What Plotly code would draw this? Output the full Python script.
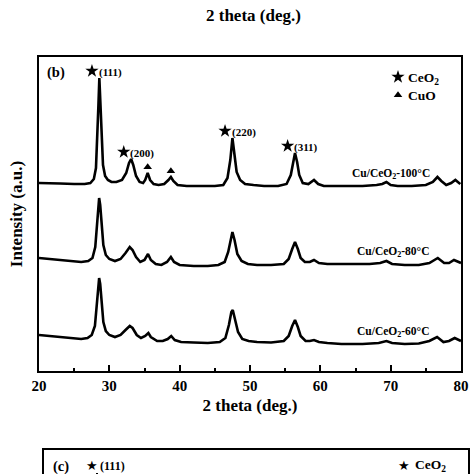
import plotly.graph_objects as go

# ---------------- data ----------------
two_theta_100 = [20, 21.5, 23, 25, 26.5, 27.3, 27.8, 28.1, 28.3, 28.45, 28.58, 28.72, 28.9, 29.1, 29.4,
                 29.8, 30.3, 31.0, 31.8, 32.4, 32.8, 33.1, 33.4, 33.8, 34.3, 34.8, 35.1, 35.45, 35.8,
                 36.3, 37.0, 37.8, 38.4, 38.75, 39.1, 39.7, 41, 43, 45, 46.2, 46.8, 47.2, 47.5, 47.8,
                 48.1, 48.6, 49.3, 50.5, 52, 54, 55.2, 55.8, 56.15, 56.4, 56.7, 57.0, 57.5, 58.3, 59.1,
                 59.7, 60.5, 62, 64, 66, 68, 68.8, 69.4, 70.0, 71, 73, 75, 76.0, 76.65, 77.2, 77.9,
                 78.6, 79.2, 79.9]
intensity_100 = [3, 3, 2.5, 2, 2, 3, 7, 18, 46, 81, 108, 86, 46, 21, 10,
                 6, 4, 4, 6, 13, 23, 27, 21, 10, 4, 3, 6, 13, 6,
                 2, 1, 2, 6, 9, 5, 1, 0, 0, 0, 1, 8, 26, 48, 31,
                 14, 6, 2, 1, 0, 0, 2, 11, 24, 33, 24, 11, 3, 2, 6,
                 2, 0, 0, 0, 0, 1, 2, 4, 1, 0, 0, 1, 4, 9, 5, 1,
                 3, 6, 2]

two_theta_80 = [20, 21.5, 23, 24.5, 26, 27, 27.6, 28.0, 28.25, 28.45, 28.55, 28.7, 28.9, 29.15, 29.5,
                30.0, 30.8, 31.6, 32.3, 32.9, 33.3, 33.8, 34.4, 35.0, 35.5, 35.9, 36.6, 37.4, 38.2,
                38.75, 39.2, 40, 42, 44, 45.5, 46.4, 46.9, 47.25, 47.5, 47.8, 48.2, 48.8, 49.7, 51,
                53, 54.8, 55.5, 56.0, 56.4, 56.8, 57.2, 57.8, 58.5, 59.1, 59.8, 61, 63, 65, 67, 68.5,
                69.4, 70.2, 72, 74, 75.5, 76.7, 77.6, 78.3, 79.0, 80]
intensity_80 = [7, 6, 5, 4, 3, 4, 7, 18, 40, 62, 67, 60, 40, 20, 10,
                6, 4, 6, 12, 18, 15, 8, 3, 5, 11, 5, 1, 0, 3,
                8, 3, 0, -1, -1, 0, 3, 13, 27, 33, 25, 11, 4, 1, 0,
                0, 1, 6, 16, 23, 16, 7, 3, 3, 5, 2, 1, 1, 1, 1, 2,
                4, 1, 0, 0, 2, 7, 2, 2, 5, 2]

two_theta_60 = [20, 21.5, 23, 24.5, 26, 26.9, 27.5, 27.95, 28.2, 28.4, 28.55, 28.7, 28.9, 29.15, 29.5,
                30.0, 30.8, 31.6, 32.3, 32.9, 33.3, 33.9, 34.5, 35.1, 35.55, 35.9, 36.8, 37.6, 38.3,
                38.8, 39.3, 40.2, 42, 44, 45.7, 46.5, 47.0, 47.35, 47.55, 47.85, 48.3, 48.9, 49.8, 51,
                53, 54.8, 55.5, 56.0, 56.4, 56.8, 57.2, 57.9, 58.5, 59.1, 59.8, 61, 63, 66, 68.3, 69.4,
                70.2, 72, 74, 75.5, 76.6, 77.5, 78.3, 79.1, 80]
intensity_60 = [8, 7, 6, 4.5, 4, 5, 8, 17, 38, 58, 65, 59, 40, 21, 12,
                8, 6, 8, 13, 17, 15, 8, 5, 7, 10, 6, 2, 2, 4,
                7, 3, 1, 0.5, 0, 1, 5, 18, 31, 33, 25, 11, 4, 2, 1,
                0.5, 2, 7, 17, 23, 16, 7, 2, 2, 3, 1, 0, -1, -1, 0, 2,
                0, -1, -0.5, 2, 6, 1, 2, 5, 2]

sample_labels = ["Cu/CeO<sub>2</sub>-100°C", "Cu/CeO<sub>2</sub>-80°C", "Cu/CeO<sub>2</sub>-60°C"]
stack_offsets = [185, 106, 28]

ceo2_peaks = [28.58, 33.1, 47.5, 56.4]          # 2θ of the indexed CeO2 reflections
ceo2_hkl = ["(111)", "(200)", "(220)", "(311)"]
cuo_peaks = [35.45, 38.75]                       # 2θ of the CuO reflections
x_ticks = [20, 30, 40, 50, 60, 70, 80]

# ---------------- layout helpers ----------------
W, H = 474, 474
L, R, T, B = 39, 13, 57, 103
Y_MAX = 314
X_MIN, X_MAX = 20, 80
FONT = "Liberation Serif, Times New Roman, serif"
SYM = "DejaVu Sans"
DEG_PER_PX = (X_MAX - X_MIN) / (W - L - R)


def py(p):  # pixel row -> paper y
    return (H - B - p) / (H - T - B)


def px(p):  # pixel column -> paper x
    return (p - L) / (W - L - R)


def dx(p):  # pixel column -> data x
    return X_MIN + (p - L) * DEG_PER_PX


def dy(p):  # pixel row -> data y
    return (H - B - p) * Y_MAX / (H - T - B)


def text_at(x, y, text, size, xanchor="center", family=FONT):
    return dict(x=px(x), y=py(y), xref="paper", yref="paper", text=text, showarrow=False,
                xanchor=xanchor, yanchor="middle", font=dict(family=family, size=size, color="black"))


def peak_top(xs, ys, pos, off):
    return max(v for x, v in zip(xs, ys) if abs(x - pos) < 0.4) + off


fig = go.Figure()
series = [(two_theta_100, intensity_100), (two_theta_80, intensity_80), (two_theta_60, intensity_60)]
for (xs, ys), off, name in zip(series, stack_offsets, sample_labels):
    fig.add_trace(go.Scatter(x=xs, y=[v + off for v in ys], mode="lines", name=name,
                             line=dict(color="black", width=2.6), showlegend=False,
                             hoverinfo="skip"))

# star / triangle symbols above the peaks of the top pattern
star_x = [p - 1.05 for p in ceo2_peaks]
star_y = [peak_top(two_theta_100, intensity_100, p, stack_offsets[0]) + 7 for p in ceo2_peaks]
tri_x = cuo_peaks
tri_y = [peak_top(two_theta_100, intensity_100, p, stack_offsets[0]) + 6 for p in cuo_peaks]

fig.add_trace(go.Scatter(x=star_x + [dx(398)], y=star_y + [dy(77)],
                         mode="markers", marker=dict(symbol="star", size=10, color="black",
                                                     line=dict(width=0)),
                         showlegend=False, hoverinfo="skip", cliponaxis=False))
fig.add_trace(go.Scatter(x=tri_x + [dx(398)], y=tri_y + [dy(95)],
                         mode="markers", marker=dict(symbol="triangle-up", size=7.5, color="black",
                                                     line=dict(width=0)),
                         showlegend=False, hoverinfo="skip", cliponaxis=False))

ann = []
# sample labels (right-aligned)
for yp, name in zip([174, 252, 332], sample_labels):
    ann.append(text_at(432, yp, "<b>" + name + "</b>", 11.5, xanchor="right"))
# hkl labels right of each star
for sx, sy, lab in zip(star_x, star_y, ceo2_hkl):
    ann.append(dict(x=sx + 0.65, y=sy - 1, xref="x", yref="y", text="<b>" + lab + "</b>",
                    showarrow=False, xanchor="left", yanchor="middle",
                    font=dict(family=FONT, size=11, color="black")))
# panel label and legend
ann.append(text_at(56, 72, "<b>(b)</b>", 14.5))
ann.append(text_at(406, 78, "<b>CeO<sub>2</sub></b>", 13.5, xanchor="left"))
ann.append(text_at(406, 95, "<b>CuO</b>", 13.5, xanchor="left"))
# axis title of the panel above (cropped)
ann.append(text_at(253, 15, "<b>2 theta (deg.)</b>", 17))
# lower panel fragment (c)
ann.append(text_at(61, 466, "<b>(c)</b>", 14.5))
ann.append(text_at(92, 465, "★", 13, family=SYM))
ann.append(text_at(98, 466, "<b>(111)</b>", 12, xanchor="left"))
ann.append(text_at(404, 465, "★", 13, family=SYM))
ann.append(text_at(413, 465, "<b>CeO<sub>2</sub></b>", 13.5, xanchor="left"))

shapes = [dict(type="path", xref="paper", yref="paper",
               path=f"M {px(43)},{py(490)} L {px(43)},{py(449)} L {px(469)},{py(449)} L {px(469)},{py(490)}",
               line=dict(color="black", width=2)),
          dict(type="line", xref="paper", yref="paper", x0=px(97), x1=px(97), y0=py(473), y1=py(477),
               line=dict(color="black", width=2))]

fig.update_layout(
    width=W, height=H,
    margin=dict(l=L, r=R, t=T, b=B),
    paper_bgcolor="white", plot_bgcolor="white",
    font=dict(family=FONT, color="black"),
    annotations=ann, shapes=shapes,
    xaxis=dict(range=[X_MIN, X_MAX], tickvals=x_ticks, ticktext=[f"<b>{t}</b>" for t in x_ticks],
               ticks="inside", ticklen=6, tickwidth=2, tickcolor="black",
               minor=dict(ticks="inside", ticklen=3, tickwidth=2, dtick=5, tick0=20, tickcolor="black"),
               showline=True, linewidth=2, linecolor="black", mirror=True,
               showgrid=False, zeroline=False, automargin=False,
               tickfont=dict(family=FONT, size=15, color="black"),
               title=dict(text="<b>2 theta (deg.)</b>", font=dict(family=FONT, size=17, color="black"),
                          standoff=6)),
    yaxis=dict(range=[0, Y_MAX], showticklabels=False, ticks="", showline=True, linewidth=2,
               linecolor="black", mirror=True, showgrid=False, zeroline=False, automargin=False,
               title=dict(text="<b>Intensity (a.u.)</b>", font=dict(family=FONT, size=17, color="black"),
                          standoff=10)),
)

fig.write_html("out.html", config={"displayModeBar": False},
               post_script="document.body.style.margin='0';document.body.style.padding='0';")
